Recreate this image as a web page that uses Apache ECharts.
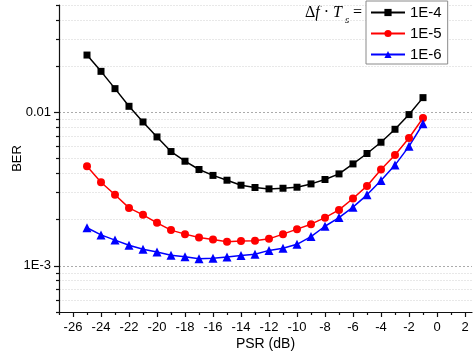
<!DOCTYPE html>
<html>
<head>
<meta charset="utf-8">
<script src="https://cdn.jsdelivr.net/npm/echarts@6/dist/echarts.min.js"></script>
<style>html,body{margin:0;padding:0;background:#fff}#c{width:474px;height:354px}</style>
</head>
<body>
<div id="c"></div>
<script>
// ---- data ----
var psr = [-25,-24,-23,-22,-21,-20,-19,-18,-17,-16,-15,-14,-13,-12,-11,-10,-9,-8,-7,-6,-5,-4,-3,-2,-1];
var ber1e4 = [0.0236,0.01848,0.01426,0.01094,0.00865,0.00691,0.00555,0.0048,0.00424,0.00388,0.00361,0.00335,0.003236,0.00317,0.0032,0.00325,0.003416,0.00365,0.00397,0.00461,0.00539,0.00638,0.00775,0.00966,0.01246];
var ber1e5 = [0.00445,0.0035,0.0029,0.002384,0.002147,0.001905,0.001708,0.001608,0.00153,0.001485,0.001433,0.001448,0.001454,0.001498,0.001608,0.001733,0.001867,0.002059,0.002313,0.002745,0.003315,0.004238,0.005275,0.006805,0.009182];
var ber1e6 = [0.00177,0.00159,0.00147,0.00136,0.00128,0.00123,0.00117,0.001145,0.00111,0.00112,0.00114,0.001165,0.00119,0.00126,0.0013,0.00138,0.00155,0.00181,0.00206,0.00241,0.0029,0.0036,0.00453,0.006,0.00842];
var seriesNames = ['1E-4','1E-5','1E-6'];
var xMajorTicks = [-26,-24,-22,-20,-18,-16,-14,-12,-10,-8,-6,-4,-2,0,2];
var xMinorTicks = [-27,-25,-23,-21,-19,-17,-15,-13,-11,-9,-7,-5,-3,-1,1];
var yMajorTicks = [0.001,0.01];
var yMajorLabels = ['1E-3','0.01'];
var yMinorTicks = [0.0005,0.0006,0.0007,0.0008,0.0009,0.002,0.003,0.004,0.005,0.006,0.007,0.008,0.009,0.02,0.03,0.04,0.05];

function pairs(ys){ return psr.map(function(x,i){ return [x, ys[i]]; }); }

var FONT = 'Liberation Sans';
var chart = echarts.init(document.getElementById('c'), null, {renderer:'canvas'});
var axisLineStyle = {color:'#111', width:1.2};
chart.setOption({
  animation:false,
  backgroundColor:'#fff',
  grid:{left:59, right:2, top:5, bottom:42, containLabel:false, outerBoundsMode:'none'},
  xAxis:[{
    type:'value', min:-27, max:2.5, position:'bottom',
    name:'PSR (dB)', nameLocation:'middle', nameGap:25, nameMoveOverlap:false,
    nameTextStyle:{fontFamily:FONT, fontSize:14, color:'#000'},
    axisLine:{show:true, onZero:false, lineStyle:axisLineStyle},
    axisTick:{show:true, length:5, inside:false, customValues:xMajorTicks, lineStyle:{color:'#111', width:1.2}},
    axisLabel:{show:true, customValues:xMajorTicks, margin:9, fontFamily:FONT, fontSize:13, color:'#000', showMinLabel:true, showMaxLabel:true},
    splitLine:{show:false}
  },{
    type:'value', min:-27, max:2.5, position:'bottom',
    axisLine:{show:false, onZero:false},
    axisTick:{show:true, length:3, customValues:xMinorTicks, lineStyle:{color:'#111', width:1.2}},
    axisLabel:{show:false},
    splitLine:{show:false}
  }],
  yAxis:[{
    type:'log', logBase:10, min:0.0005, max:0.05, position:'left',
    name:'BER', nameLocation:'middle', nameGap:35, nameMoveOverlap:false,
    nameTextStyle:{fontFamily:FONT, fontSize:13, color:'#000'},
    axisLine:{show:true, onZero:false, lineStyle:axisLineStyle},
    axisTick:{show:true, length:5, customValues:yMajorTicks, lineStyle:{color:'#111', width:1.2}},
    axisLabel:{show:true, customValues:yMajorTicks, margin:8, fontFamily:FONT, fontSize:13, color:'#000',
      formatter:function(v){ for (var i=0;i<yMajorTicks.length;i++){ if (Math.abs(v-yMajorTicks[i])/yMajorTicks[i]<1e-6) return yMajorLabels[i]; } return ''; }},
    splitLine:{show:true, lineStyle:{color:'#ababab', width:1, type:[2,2]}}
  },{
    type:'log', logBase:10, min:0.0005, max:0.05, position:'left',
    axisLine:{show:false, onZero:false},
    axisTick:{show:true, length:3, customValues:yMinorTicks, lineStyle:{color:'#111', width:1.2}},
    axisLabel:{show:false},
    splitLine:{show:true, lineStyle:{color:'#e8e8e8', width:1, type:[2,1]}}
  }],
  legend:{
    orient:'vertical', left:366, top:1,
    padding:[4,6,2,4], itemGap:6, itemWidth:34, itemHeight:9,
    borderColor:'#8a8a8a', borderWidth:1, backgroundColor:'#fff',
    textStyle:{fontFamily:FONT, fontSize:15, color:'#000'},
    data:seriesNames
  },
  graphic:[
    {type:'text', left:305, top:5, style:{
      text:'{d|Δ}{i|f}{d| · }{i|T}', fill:'#000',
      rich:{
        d:{fontFamily:'Liberation Serif', fontSize:16, fill:'#000'},
        i:{fontFamily:'Liberation Serif', fontSize:16, fontStyle:'italic', fill:'#000'}
      }}},
    {type:'text', left:345, top:15, style:{text:'s', fill:'#000', fontFamily:'Liberation Serif', fontSize:11, fontStyle:'italic'}},
    {type:'text', left:353, top:5, style:{text:'=', fill:'#000', fontFamily:'Liberation Serif', fontSize:16}}
  ],
  series:[
    {name:seriesNames[0], type:'line', xAxisIndex:0, yAxisIndex:0, data:pairs(ber1e4),
     symbol:'rect', symbolSize:7, lineStyle:{color:'#000', width:1.5}, itemStyle:{color:'#000'}, z:3},
    {name:seriesNames[1], type:'line', xAxisIndex:0, yAxisIndex:0, data:pairs(ber1e5),
     symbol:'circle', symbolSize:8, lineStyle:{color:'#ff0000', width:1.5}, itemStyle:{color:'#ff0000'}, z:3},
    {name:seriesNames[2], type:'line', xAxisIndex:0, yAxisIndex:0, data:pairs(ber1e6),
     symbol:'triangle', symbolSize:9, lineStyle:{color:'#0000ff', width:1.5}, itemStyle:{color:'#0000ff'}, z:3}
  ]
});
</script>
</body>
</html>
